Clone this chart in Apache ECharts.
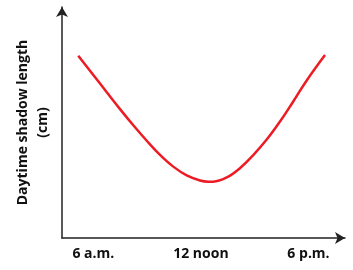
<!DOCTYPE html>
<html>
<head>
<meta charset="utf-8">
<script src="https://cdn.jsdelivr.net/npm/echarts@6/dist/echarts.min.js"></script>
<style>html,body{margin:0;padding:0;background:#fff}#c{width:353px;height:270px}</style>
</head>
<body>
<div id="c"></div>
<script>
// hours of day (x) and relative shadow length (y)
var hours = [5.16, 6.00, 6.75, 7.49, 8.23, 8.98, 9.72, 10.46, 11.21, 11.95, 12.41, 12.69, 13.44, 14.19, 14.92, 15.67, 16.41, 17.15, 17.90, 18.92];
var shadow = [78.9, 70.6, 63.1, 55.8, 48.8, 42.1, 36.0, 30.9, 27.1, 24.9, 24.4, 24.4, 26.2, 30.3, 35.9, 42.6, 50.4, 59.1, 68.2, 79.2];
var tickHours = [6, 12, 18];
var tickLabels = ['6 a.m.', '12 noon', '6 p.m.'];
var yTitle = 'Daytime shadow length\n(cm)';

var chart = echarts.init(document.getElementById('c'), null, {renderer: 'canvas'});
var font = '"Open Sans", Lato, sans-serif';
chart.setOption({
  animation: false,
  grid: {left: 62, right: 8, top: 7, bottom: 32},
  xAxis: {
    type: 'value', min: 4.254, max: 20.036,
    axisLine: {show: true, lineStyle: {color: '#222', width: 1.5}, symbol: ['none', 'arrow'], symbolSize: [9, 10]},
    axisTick: {show: false},
    splitLine: {show: false},
    axisLabel: {
      customValues: tickHours,
      formatter: function (v) { var i = tickHours.indexOf(v); return i >= 0 ? tickLabels[i] : ''; },
      color: '#111', fontWeight: 'bold', fontSize: 14, fontFamily: font, margin: 9
    }
  },
  yAxis: {
    type: 'value', min: 0, max: 100,
    axisLine: {show: true, lineStyle: {color: '#222', width: 1.5}, symbol: ['none', 'arrow'], symbolSize: [9, 10]},
    axisTick: {show: false},
    axisLabel: {show: false},
    splitLine: {show: false},
    name: yTitle, nameLocation: 'middle', nameRotate: 90, nameGap: 9,
    nameTextStyle: {color: '#111', fontWeight: 'bold', fontSize: 14, fontFamily: font, lineHeight: 20, align: 'center'}
  },
  series: [{
    type: 'line', data: hours.map(function (h, i) { return [h, shadow[i]]; }),
    smooth: 0.4, showSymbol: false,
    lineStyle: {color: '#ED1C24', width: 2.5}
  }]
});
</script>
</body>
</html>
